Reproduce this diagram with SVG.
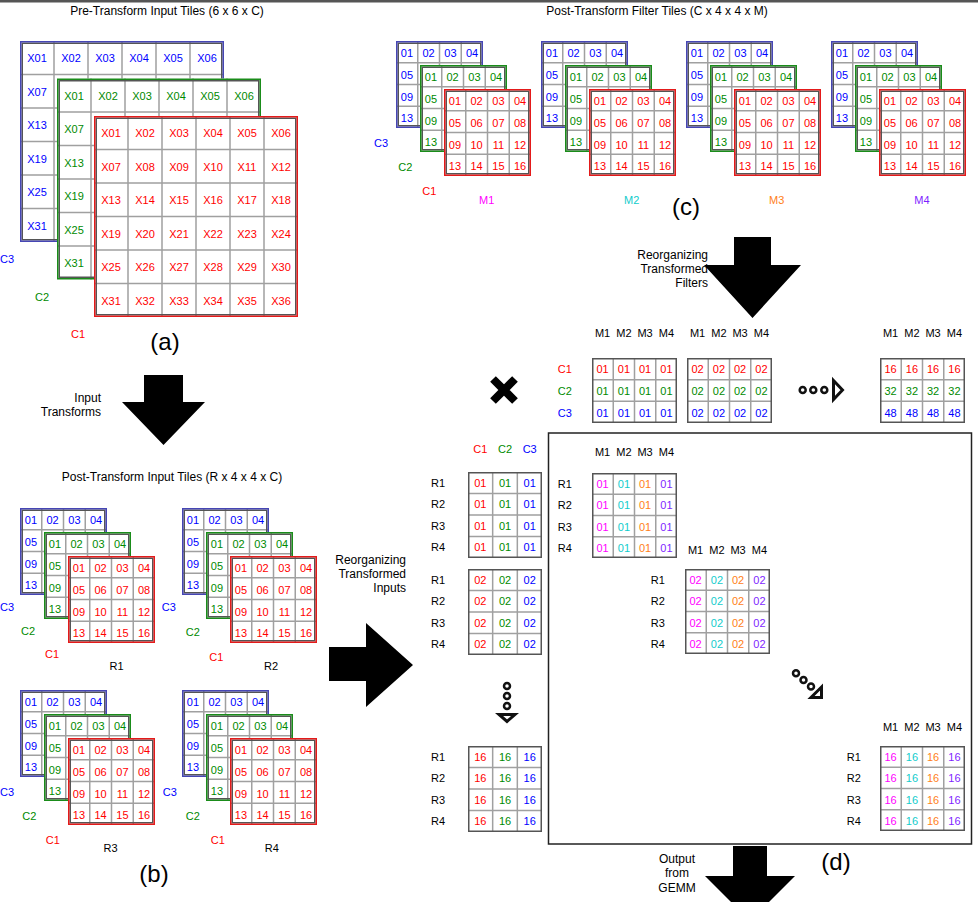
<svg xmlns="http://www.w3.org/2000/svg" width="978" height="902" viewBox="0 0 978 902">
<style>
text{font-family:'Liberation Sans',Arial,Helvetica,sans-serif;font-size:11px;text-anchor:middle}
.s{text-anchor:start}.e{text-anchor:end}
.big{font-size:24px}.lg{font-size:12px}
.r{fill:#f00}.g{fill:#008a00}.b{fill:#00f}.m{fill:#f0f}.c{fill:#1cc}.o{fill:#ff8019}.p{fill:#7f1fff}.k{fill:#000}
.grid{stroke:#a0a0a0;stroke-width:1.5;fill:none}
.bd{fill:none;stroke:#555;stroke-width:1.5}
.dot{fill:none;stroke:#111;stroke-width:2.5}
</style>
<defs>
<g id="t4"><rect width="87" height="87" fill="#fff"/><path class="grid" d="M21.75 0V87M43.5 0V87M65.25 0V87M0 21.75H87M0 43.5H87M0 65.25H87"/><rect class="bd" x="2.25" y="2.25" width="82.5" height="82.5"/><rect x=".75" y=".75" width="85.5" height="85.5" fill="none" stroke="currentColor" stroke-width="1.5"/></g>
<g id="t6"><rect width="204" height="201" fill="#fff"/><path class="grid" d="M34 0V201M68 0V201M102 0V201M136 0V201M170 0V201M0 33.5H204M0 67H204M0 100.5H204M0 134H204M0 167.5H204"/><rect class="bd" x="2.25" y="2.25" width="199.5" height="196.5"/><rect x=".75" y=".75" width="202.5" height="199.5" fill="none" stroke="currentColor" stroke-width="1.5"/></g>
<g id="f43"><rect width="85" height="65" fill="#fff"/><path class="grid" d="M21.25 0V65M42.5 0V65M63.75 0V65M0 21.67H85M0 43.33H85"/><rect class="bd" x=".75" y=".75" width="83.5" height="63.5"/></g>
<g id="i34"><rect width="74" height="86" fill="#fff"/><path class="grid" d="M24.67 0V86M49.33 0V86M0 21.5H74M0 43H74M0 64.5H74"/><rect class="bd" x=".75" y=".75" width="72.5" height="84.5"/></g>
<g id="o44"><rect width="85" height="85" fill="#fff"/><path class="grid" d="M21.25 0V85M42.5 0V85M63.75 0V85M0 21.25H85M0 42.5H85M0 63.75H85"/><rect class="bd" x=".75" y=".75" width="83.5" height="83.5"/></g>
</defs>
<rect width="978" height="902" fill="#fff"/>
<rect width="978" height="2.5" fill="#555"/>

<!-- (a) -->
<g id="a-section">
<text class="lg" x="167" y="15">Pre-Transform Input Tiles (6 x 6 x C)</text>
<use href="#t6" x="20" y="41" color="#4646b4"/>
<g class="b"><text x="37" y="62.25">X01</text><text x="71" y="62.25">X02</text><text x="105" y="62.25">X03</text><text x="139" y="62.25">X04</text><text x="173" y="62.25">X05</text><text x="207" y="62.25">X06</text><text x="37" y="95.75">X07</text><text x="37" y="129.25">X13</text><text x="37" y="162.75">X19</text><text x="37" y="196.25">X25</text><text x="37" y="229.75">X31</text></g>
<use href="#t6" x="57" y="78.5" color="#1a8c1a"/>
<g class="g"><text x="74" y="99.75">X01</text><text x="108" y="99.75">X02</text><text x="142" y="99.75">X03</text><text x="176" y="99.75">X04</text><text x="210" y="99.75">X05</text><text x="244" y="99.75">X06</text><text x="74" y="133.25">X07</text><text x="74" y="166.75">X13</text><text x="74" y="200.25">X19</text><text x="74" y="233.75">X25</text><text x="74" y="267.25">X31</text></g>
<use href="#t6" x="94" y="116" color="#e41a1a"/>
<g class="r">
<text x="111" y="137.25">X01</text><text x="145" y="137.25">X02</text><text x="179" y="137.25">X03</text><text x="213" y="137.25">X04</text><text x="247" y="137.25">X05</text><text x="281" y="137.25">X06</text>
<text x="111" y="170.75">X07</text><text x="145" y="170.75">X08</text><text x="179" y="170.75">X09</text><text x="213" y="170.75">X10</text><text x="247" y="170.75">X11</text><text x="281" y="170.75">X12</text>
<text x="111" y="204.25">X13</text><text x="145" y="204.25">X14</text><text x="179" y="204.25">X15</text><text x="213" y="204.25">X16</text><text x="247" y="204.25">X17</text><text x="281" y="204.25">X18</text>
<text x="111" y="237.75">X19</text><text x="145" y="237.75">X20</text><text x="179" y="237.75">X21</text><text x="213" y="237.75">X22</text><text x="247" y="237.75">X23</text><text x="281" y="237.75">X24</text>
<text x="111" y="271.25">X25</text><text x="145" y="271.25">X26</text><text x="179" y="271.25">X27</text><text x="213" y="271.25">X28</text><text x="247" y="271.25">X29</text><text x="281" y="271.25">X30</text>
<text x="111" y="304.75">X31</text><text x="145" y="304.75">X32</text><text x="179" y="304.75">X33</text><text x="213" y="304.75">X34</text><text x="247" y="304.75">X35</text><text x="281" y="304.75">X36</text>
</g>
<text class="s b" x="0" y="263">C3</text>
<text class="s g" x="35" y="301">C2</text>
<text class="s r" x="71" y="337.5">C1</text>
<text class="big" x="165" y="350">(a)</text>
</g>

<!-- (c) -->
<g id="c-section">
<text class="lg" x="657" y="15">Post-Transform Filter Tiles (C x 4 x 4 x M)</text>
<g id="c-m1" transform="translate(396,41)">
<use href="#t4" color="#4646b4"/>
<g class="b"><text x="10.9" y="16">01</text><text x="32.6" y="16">02</text><text x="54.4" y="16">03</text><text x="76.1" y="16">04</text><text x="10.9" y="37.75">05</text><text x="10.9" y="59.5">09</text><text x="10.9" y="81.25">13</text></g>
<use href="#t4" x="24" y="24" color="#1a8c1a"/>
<g class="g"><text x="34.9" y="40">01</text><text x="56.6" y="40">02</text><text x="78.4" y="40">03</text><text x="100.1" y="40">04</text><text x="34.9" y="61.75">05</text><text x="34.9" y="83.5">09</text><text x="34.9" y="105.25">13</text></g>
<use href="#t4" x="48" y="48" color="#e41a1a"/>
<g class="r"><text x="58.9" y="64">01</text><text x="80.6" y="64">02</text><text x="102.4" y="64">03</text><text x="124.1" y="64">04</text><text x="58.9" y="85.75">05</text><text x="80.6" y="85.75">06</text><text x="102.4" y="85.75">07</text><text x="124.1" y="85.75">08</text><text x="58.9" y="107.5">09</text><text x="80.6" y="107.5">10</text><text x="102.4" y="107.5">11</text><text x="124.1" y="107.5">12</text><text x="58.9" y="129.25">13</text><text x="80.6" y="129.25">14</text><text x="102.4" y="129.25">15</text><text x="124.1" y="129.25">16</text></g>
</g>
<g id="c-m2" transform="translate(541,41)">
<use href="#t4" color="#4646b4"/>
<g class="b"><text x="10.9" y="16">01</text><text x="32.6" y="16">02</text><text x="54.4" y="16">03</text><text x="76.1" y="16">04</text><text x="10.9" y="37.75">05</text><text x="10.9" y="59.5">09</text><text x="10.9" y="81.25">13</text></g>
<use href="#t4" x="24" y="24" color="#1a8c1a"/>
<g class="g"><text x="34.9" y="40">01</text><text x="56.6" y="40">02</text><text x="78.4" y="40">03</text><text x="100.1" y="40">04</text><text x="34.9" y="61.75">05</text><text x="34.9" y="83.5">09</text><text x="34.9" y="105.25">13</text></g>
<use href="#t4" x="48" y="48" color="#e41a1a"/>
<g class="r"><text x="58.9" y="64">01</text><text x="80.6" y="64">02</text><text x="102.4" y="64">03</text><text x="124.1" y="64">04</text><text x="58.9" y="85.75">05</text><text x="80.6" y="85.75">06</text><text x="102.4" y="85.75">07</text><text x="124.1" y="85.75">08</text><text x="58.9" y="107.5">09</text><text x="80.6" y="107.5">10</text><text x="102.4" y="107.5">11</text><text x="124.1" y="107.5">12</text><text x="58.9" y="129.25">13</text><text x="80.6" y="129.25">14</text><text x="102.4" y="129.25">15</text><text x="124.1" y="129.25">16</text></g>
</g>
<g id="c-m3" transform="translate(686,41)">
<use href="#t4" color="#4646b4"/>
<g class="b"><text x="10.9" y="16">01</text><text x="32.6" y="16">02</text><text x="54.4" y="16">03</text><text x="76.1" y="16">04</text><text x="10.9" y="37.75">05</text><text x="10.9" y="59.5">09</text><text x="10.9" y="81.25">13</text></g>
<use href="#t4" x="24" y="24" color="#1a8c1a"/>
<g class="g"><text x="34.9" y="40">01</text><text x="56.6" y="40">02</text><text x="78.4" y="40">03</text><text x="100.1" y="40">04</text><text x="34.9" y="61.75">05</text><text x="34.9" y="83.5">09</text><text x="34.9" y="105.25">13</text></g>
<use href="#t4" x="48" y="48" color="#e41a1a"/>
<g class="r"><text x="58.9" y="64">01</text><text x="80.6" y="64">02</text><text x="102.4" y="64">03</text><text x="124.1" y="64">04</text><text x="58.9" y="85.75">05</text><text x="80.6" y="85.75">06</text><text x="102.4" y="85.75">07</text><text x="124.1" y="85.75">08</text><text x="58.9" y="107.5">09</text><text x="80.6" y="107.5">10</text><text x="102.4" y="107.5">11</text><text x="124.1" y="107.5">12</text><text x="58.9" y="129.25">13</text><text x="80.6" y="129.25">14</text><text x="102.4" y="129.25">15</text><text x="124.1" y="129.25">16</text></g>
</g>
<g id="c-m4" transform="translate(831,41)">
<use href="#t4" color="#4646b4"/>
<g class="b"><text x="10.9" y="16">01</text><text x="32.6" y="16">02</text><text x="54.4" y="16">03</text><text x="76.1" y="16">04</text><text x="10.9" y="37.75">05</text><text x="10.9" y="59.5">09</text><text x="10.9" y="81.25">13</text></g>
<use href="#t4" x="24" y="24" color="#1a8c1a"/>
<g class="g"><text x="34.9" y="40">01</text><text x="56.6" y="40">02</text><text x="78.4" y="40">03</text><text x="100.1" y="40">04</text><text x="34.9" y="61.75">05</text><text x="34.9" y="83.5">09</text><text x="34.9" y="105.25">13</text></g>
<use href="#t4" x="48" y="48" color="#e41a1a"/>
<g class="r"><text x="58.9" y="64">01</text><text x="80.6" y="64">02</text><text x="102.4" y="64">03</text><text x="124.1" y="64">04</text><text x="58.9" y="85.75">05</text><text x="80.6" y="85.75">06</text><text x="102.4" y="85.75">07</text><text x="124.1" y="85.75">08</text><text x="58.9" y="107.5">09</text><text x="80.6" y="107.5">10</text><text x="102.4" y="107.5">11</text><text x="124.1" y="107.5">12</text><text x="58.9" y="129.25">13</text><text x="80.6" y="129.25">14</text><text x="102.4" y="129.25">15</text><text x="124.1" y="129.25">16</text></g>
</g>
<text class="s b" x="374" y="146.5">C3</text>
<text class="s g" x="398.3" y="170.5">C2</text>
<text class="s r" x="422.3" y="195">C1</text>
<text class="m" x="486.7" y="203.5">M1</text>
<text class="c" x="631.7" y="203.5">M2</text>
<text class="o" x="776.7" y="203.5">M3</text>
<text class="p" x="922" y="203.5">M4</text>
<text class="big" x="686" y="215">(c)</text>
</g>

<!-- (b) -->
<g id="b-section">
<text class="lg" x="172" y="481">Post-Transform Input Tiles (R x 4 x 4 x C)</text>
<g id="b-r1" transform="translate(20,508)">
<use href="#t4" color="#4646b4"/>
<g class="b"><text x="10.9" y="16">01</text><text x="32.6" y="16">02</text><text x="54.4" y="16">03</text><text x="76.1" y="16">04</text><text x="10.9" y="37.75">05</text><text x="10.9" y="59.5">09</text><text x="10.9" y="81.25">13</text></g>
<use href="#t4" x="24" y="24" color="#1a8c1a"/>
<g class="g"><text x="34.9" y="40">01</text><text x="56.6" y="40">02</text><text x="78.4" y="40">03</text><text x="100.1" y="40">04</text><text x="34.9" y="61.75">05</text><text x="34.9" y="83.5">09</text><text x="34.9" y="105.25">13</text></g>
<use href="#t4" x="48" y="48" color="#e41a1a"/>
<g class="r"><text x="58.9" y="64">01</text><text x="80.6" y="64">02</text><text x="102.4" y="64">03</text><text x="124.1" y="64">04</text><text x="58.9" y="85.75">05</text><text x="80.6" y="85.75">06</text><text x="102.4" y="85.75">07</text><text x="124.1" y="85.75">08</text><text x="58.9" y="107.5">09</text><text x="80.6" y="107.5">10</text><text x="102.4" y="107.5">11</text><text x="124.1" y="107.5">12</text><text x="58.9" y="129.25">13</text><text x="80.6" y="129.25">14</text><text x="102.4" y="129.25">15</text><text x="124.1" y="129.25">16</text></g>
</g>
<g id="b-r2" transform="translate(182,508)">
<use href="#t4" color="#4646b4"/>
<g class="b"><text x="10.9" y="16">01</text><text x="32.6" y="16">02</text><text x="54.4" y="16">03</text><text x="76.1" y="16">04</text><text x="10.9" y="37.75">05</text><text x="10.9" y="59.5">09</text><text x="10.9" y="81.25">13</text></g>
<use href="#t4" x="24" y="24" color="#1a8c1a"/>
<g class="g"><text x="34.9" y="40">01</text><text x="56.6" y="40">02</text><text x="78.4" y="40">03</text><text x="100.1" y="40">04</text><text x="34.9" y="61.75">05</text><text x="34.9" y="83.5">09</text><text x="34.9" y="105.25">13</text></g>
<use href="#t4" x="48" y="48" color="#e41a1a"/>
<g class="r"><text x="58.9" y="64">01</text><text x="80.6" y="64">02</text><text x="102.4" y="64">03</text><text x="124.1" y="64">04</text><text x="58.9" y="85.75">05</text><text x="80.6" y="85.75">06</text><text x="102.4" y="85.75">07</text><text x="124.1" y="85.75">08</text><text x="58.9" y="107.5">09</text><text x="80.6" y="107.5">10</text><text x="102.4" y="107.5">11</text><text x="124.1" y="107.5">12</text><text x="58.9" y="129.25">13</text><text x="80.6" y="129.25">14</text><text x="102.4" y="129.25">15</text><text x="124.1" y="129.25">16</text></g>
</g>
<g id="b-r3" transform="translate(20,690)">
<use href="#t4" color="#4646b4"/>
<g class="b"><text x="10.9" y="16">01</text><text x="32.6" y="16">02</text><text x="54.4" y="16">03</text><text x="76.1" y="16">04</text><text x="10.9" y="37.75">05</text><text x="10.9" y="59.5">09</text><text x="10.9" y="81.25">13</text></g>
<use href="#t4" x="24" y="24" color="#1a8c1a"/>
<g class="g"><text x="34.9" y="40">01</text><text x="56.6" y="40">02</text><text x="78.4" y="40">03</text><text x="100.1" y="40">04</text><text x="34.9" y="61.75">05</text><text x="34.9" y="83.5">09</text><text x="34.9" y="105.25">13</text></g>
<use href="#t4" x="48" y="48" color="#e41a1a"/>
<g class="r"><text x="58.9" y="64">01</text><text x="80.6" y="64">02</text><text x="102.4" y="64">03</text><text x="124.1" y="64">04</text><text x="58.9" y="85.75">05</text><text x="80.6" y="85.75">06</text><text x="102.4" y="85.75">07</text><text x="124.1" y="85.75">08</text><text x="58.9" y="107.5">09</text><text x="80.6" y="107.5">10</text><text x="102.4" y="107.5">11</text><text x="124.1" y="107.5">12</text><text x="58.9" y="129.25">13</text><text x="80.6" y="129.25">14</text><text x="102.4" y="129.25">15</text><text x="124.1" y="129.25">16</text></g>
</g>
<g id="b-r4" transform="translate(182,690)">
<use href="#t4" color="#4646b4"/>
<g class="b"><text x="10.9" y="16">01</text><text x="32.6" y="16">02</text><text x="54.4" y="16">03</text><text x="76.1" y="16">04</text><text x="10.9" y="37.75">05</text><text x="10.9" y="59.5">09</text><text x="10.9" y="81.25">13</text></g>
<use href="#t4" x="24" y="24" color="#1a8c1a"/>
<g class="g"><text x="34.9" y="40">01</text><text x="56.6" y="40">02</text><text x="78.4" y="40">03</text><text x="100.1" y="40">04</text><text x="34.9" y="61.75">05</text><text x="34.9" y="83.5">09</text><text x="34.9" y="105.25">13</text></g>
<use href="#t4" x="48" y="48" color="#e41a1a"/>
<g class="r"><text x="58.9" y="64">01</text><text x="80.6" y="64">02</text><text x="102.4" y="64">03</text><text x="124.1" y="64">04</text><text x="58.9" y="85.75">05</text><text x="80.6" y="85.75">06</text><text x="102.4" y="85.75">07</text><text x="124.1" y="85.75">08</text><text x="58.9" y="107.5">09</text><text x="80.6" y="107.5">10</text><text x="102.4" y="107.5">11</text><text x="124.1" y="107.5">12</text><text x="58.9" y="129.25">13</text><text x="80.6" y="129.25">14</text><text x="102.4" y="129.25">15</text><text x="124.1" y="129.25">16</text></g>
</g>
<text class="s b" x="0" y="611">C3</text><text class="s g" x="21" y="635">C2</text><text class="s r" x="45" y="658">C1</text><text x="116.5" y="669.5">R1</text>
<text class="s b" x="161.7" y="611">C3</text><text class="s g" x="185.7" y="636">C2</text><text class="s r" x="209.3" y="660.5">C1</text><text x="271" y="669.5">R2</text>
<text class="s b" x="0" y="795.5">C3</text><text class="s g" x="22.3" y="819.5">C2</text><text class="s r" x="45.7" y="844">C1</text><text x="110.5" y="852">R3</text>
<text class="s b" x="162.7" y="795.5">C3</text><text class="s g" x="185.7" y="819.5">C2</text><text class="s r" x="210.7" y="844">C1</text><text x="271.8" y="852">R4</text>
<text class="big" x="154" y="882">(b)</text>
</g>

<!-- (d) filters -->
<g id="d-filters">
<g class="k"><text x="602.6" y="337">M1</text><text x="623.9" y="337">M2</text><text x="645.1" y="337">M3</text><text x="666.4" y="337">M4</text><text x="697.6" y="337">M1</text><text x="718.9" y="337">M2</text><text x="740.1" y="337">M3</text><text x="761.4" y="337">M4</text><text x="890.6" y="337">M1</text><text x="911.9" y="337">M2</text><text x="933.1" y="337">M3</text><text x="954.4" y="337">M4</text></g>
<text class="s r" x="557.7" y="373.3">C1</text><text class="s g" x="557.7" y="395">C2</text><text class="s b" x="557.7" y="416.7">C3</text>
<use href="#f43" x="592" y="358"/>
<use href="#f43" x="687" y="358"/>
<use href="#f43" x="880" y="358"/>
<g class="r"><text x="602.6" y="373.3">01</text><text x="623.9" y="373.3">01</text><text x="645.1" y="373.3">01</text><text x="666.4" y="373.3">01</text><text x="697.6" y="373.3">02</text><text x="718.9" y="373.3">02</text><text x="740.1" y="373.3">02</text><text x="761.4" y="373.3">02</text><text x="890.6" y="373.3">16</text><text x="911.9" y="373.3">16</text><text x="933.1" y="373.3">16</text><text x="954.4" y="373.3">16</text></g>
<g class="g"><text x="602.6" y="395">01</text><text x="623.9" y="395">01</text><text x="645.1" y="395">01</text><text x="666.4" y="395">01</text><text x="697.6" y="395">02</text><text x="718.9" y="395">02</text><text x="740.1" y="395">02</text><text x="761.4" y="395">02</text><text x="890.6" y="395">32</text><text x="911.9" y="395">32</text><text x="933.1" y="395">32</text><text x="954.4" y="395">32</text></g>
<g class="b"><text x="602.6" y="416.7">01</text><text x="623.9" y="416.7">01</text><text x="645.1" y="416.7">01</text><text x="666.4" y="416.7">01</text><text x="697.6" y="416.7">02</text><text x="718.9" y="416.7">02</text><text x="740.1" y="416.7">02</text><text x="761.4" y="416.7">02</text><text x="890.6" y="416.7">48</text><text x="911.9" y="416.7">48</text><text x="933.1" y="416.7">48</text><text x="954.4" y="416.7">48</text></g>
</g>

<!-- (d) inputs -->
<g id="d-inputs">
<text class="r" x="480.3" y="452.5">C1</text><text class="g" x="505" y="452.5">C2</text><text class="b" x="529.7" y="452.5">C3</text>
<use href="#i34" x="468" y="472"/>
<use href="#i34" x="468" y="569"/>
<use href="#i34" x="468" y="746"/>
<g class="s k"><text class="s" x="431" y="486.75">R1</text><text class="s" x="431" y="508.25">R2</text><text class="s" x="431" y="529.75">R3</text><text class="s" x="431" y="551.25">R4</text>
<text class="s" x="431" y="583.75">R1</text><text class="s" x="431" y="605.25">R2</text><text class="s" x="431" y="626.75">R3</text><text class="s" x="431" y="648.25">R4</text>
<text class="s" x="431" y="760.75">R1</text><text class="s" x="431" y="782.25">R2</text><text class="s" x="431" y="803.75">R3</text><text class="s" x="431" y="825.25">R4</text></g>
<g class="r"><text x="480.3" y="486.75">01</text><text x="480.3" y="508.25">01</text><text x="480.3" y="529.75">01</text><text x="480.3" y="551.25">01</text><text x="480.3" y="583.75">02</text><text x="480.3" y="605.25">02</text><text x="480.3" y="626.75">02</text><text x="480.3" y="648.25">02</text><text x="480.3" y="760.75">16</text><text x="480.3" y="782.25">16</text><text x="480.3" y="803.75">16</text><text x="480.3" y="825.25">16</text></g>
<g class="g"><text x="505" y="486.75">01</text><text x="505" y="508.25">01</text><text x="505" y="529.75">01</text><text x="505" y="551.25">01</text><text x="505" y="583.75">02</text><text x="505" y="605.25">02</text><text x="505" y="626.75">02</text><text x="505" y="648.25">02</text><text x="505" y="760.75">16</text><text x="505" y="782.25">16</text><text x="505" y="803.75">16</text><text x="505" y="825.25">16</text></g>
<g class="b"><text x="529.7" y="486.75">01</text><text x="529.7" y="508.25">01</text><text x="529.7" y="529.75">01</text><text x="529.7" y="551.25">01</text><text x="529.7" y="583.75">02</text><text x="529.7" y="605.25">02</text><text x="529.7" y="626.75">02</text><text x="529.7" y="648.25">02</text><text x="529.7" y="760.75">16</text><text x="529.7" y="782.25">16</text><text x="529.7" y="803.75">16</text><text x="529.7" y="825.25">16</text></g>
</g>

<!-- (d) output box -->
<g id="d-output">
<rect x="548.5" y="433" width="423" height="411" fill="none" stroke="#222" stroke-width="1.5"/>
<g class="k"><text x="602.6" y="456">M1</text><text x="623.9" y="456">M2</text><text x="645.1" y="456">M3</text><text x="666.4" y="456">M4</text>
<text x="695.6" y="553.8">M1</text><text x="716.9" y="553.8">M2</text><text x="738.1" y="553.8">M3</text><text x="759.4" y="553.8">M4</text>
<text x="890.6" y="730.5">M1</text><text x="911.9" y="730.5">M2</text><text x="933.1" y="730.5">M3</text><text x="954.4" y="730.5">M4</text>
<text class="s" x="557.7" y="488.1">R1</text><text class="s" x="557.7" y="509.4">R2</text><text class="s" x="557.7" y="530.6">R3</text><text class="s" x="557.7" y="551.9">R4</text>
<text class="s" x="650.7" y="584.1">R1</text><text class="s" x="650.7" y="605.4">R2</text><text class="s" x="650.7" y="626.6">R3</text><text class="s" x="650.7" y="647.9">R4</text>
<text class="s" x="846.7" y="761.1">R1</text><text class="s" x="846.7" y="782.4">R2</text><text class="s" x="846.7" y="803.6">R3</text><text class="s" x="846.7" y="824.9">R4</text></g>
<use href="#o44" x="592" y="473"/>
<use href="#o44" x="685" y="569"/>
<use href="#o44" x="880" y="746"/>
<g class="m"><text x="602.6" y="488.1">01</text><text x="602.6" y="509.4">01</text><text x="602.6" y="530.6">01</text><text x="602.6" y="551.9">01</text><text x="695.6" y="584.1">02</text><text x="695.6" y="605.4">02</text><text x="695.6" y="626.6">02</text><text x="695.6" y="647.9">02</text><text x="890.6" y="761.1">16</text><text x="890.6" y="782.4">16</text><text x="890.6" y="803.6">16</text><text x="890.6" y="824.9">16</text></g>
<g class="c"><text x="623.9" y="488.1">01</text><text x="623.9" y="509.4">01</text><text x="623.9" y="530.6">01</text><text x="623.9" y="551.9">01</text><text x="716.9" y="584.1">02</text><text x="716.9" y="605.4">02</text><text x="716.9" y="626.6">02</text><text x="716.9" y="647.9">02</text><text x="911.9" y="761.1">16</text><text x="911.9" y="782.4">16</text><text x="911.9" y="803.6">16</text><text x="911.9" y="824.9">16</text></g>
<g class="o"><text x="645.1" y="488.1">01</text><text x="645.1" y="509.4">01</text><text x="645.1" y="530.6">01</text><text x="645.1" y="551.9">01</text><text x="738.1" y="584.1">02</text><text x="738.1" y="605.4">02</text><text x="738.1" y="626.6">02</text><text x="738.1" y="647.9">02</text><text x="933.1" y="761.1">16</text><text x="933.1" y="782.4">16</text><text x="933.1" y="803.6">16</text><text x="933.1" y="824.9">16</text></g>
<g class="p"><text x="666.4" y="488.1">01</text><text x="666.4" y="509.4">01</text><text x="666.4" y="530.6">01</text><text x="666.4" y="551.9">01</text><text x="759.4" y="584.1">02</text><text x="759.4" y="605.4">02</text><text x="759.4" y="626.6">02</text><text x="759.4" y="647.9">02</text><text x="954.4" y="761.1">16</text><text x="954.4" y="782.4">16</text><text x="954.4" y="803.6">16</text><text x="954.4" y="824.9">16</text></g>
<text class="big" x="836" y="870">(d)</text>
</g>

<!-- connectors -->
<g id="connectors">
<path d="M144 375H183V402H205L163.5 445L122 402H144Z" fill="#000"/>
<text class="e lg" x="101" y="402">Input</text><text class="e lg" x="101" y="415.5">Transforms</text>
<path d="M734 237H771V265H801L752.5 318L704 265H734Z" fill="#000"/>
<text class="e lg" x="708" y="259">Reorganizing</text><text class="e lg" x="708" y="273">Transformed</text><text class="e lg" x="708" y="287">Filters</text>
<path d="M329 647H366V623L413 665L366 707V681H329Z" fill="#000"/>
<text class="e lg" x="406" y="563.5">Reorganizing</text><text class="e lg" x="406" y="577.5">Transformed</text><text class="e lg" x="406" y="592">Inputs</text>
<path d="M733 846H767V876H795L750 921L705 876H733Z" fill="#000"/>
<text class="lg" x="677" y="862.5">Output</text><text class="lg" x="677" y="877">from</text><text class="lg" x="677" y="891.5">GEMM</text>
<path d="M493 379L515 401M515 379L493 401" stroke="#000" stroke-width="8"/>
<g class="dot"><circle cx="802.7" cy="390" r="3"/><circle cx="813.3" cy="390" r="3"/><circle cx="824.3" cy="390" r="3"/><path d="M833.5 380.5L842.5 390L833.5 399.5Z" stroke-width="3"/></g>
<g class="dot"><circle cx="507" cy="686" r="3"/><circle cx="507" cy="696" r="3"/><circle cx="507" cy="706" r="3"/><path d="M499 714.5H515L507 721.5Z" stroke-width="3"/></g>
<g class="dot"><circle cx="796" cy="673.3" r="3"/><circle cx="803.5" cy="680" r="3"/><circle cx="811" cy="686.5" r="3"/><path d="M811 697.5H821.5V687Z" stroke-width="3"/></g>
</g>
</svg>
